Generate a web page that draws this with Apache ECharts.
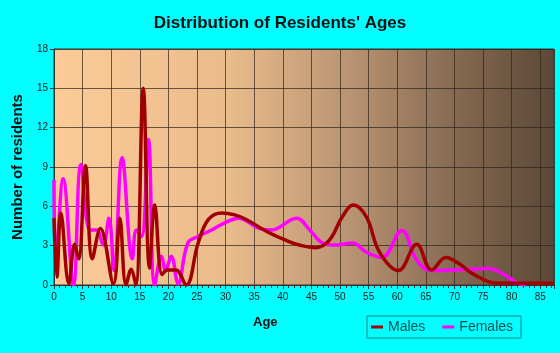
<!DOCTYPE html>
<html lang="en">
<head>
    <meta charset="UTF-8">
    <title>Distribution of Residents' Ages</title>
    <style>
        html, body {
            margin: 0;
            padding: 0;
            background: #00ffff;
        }

        #main {
            width: 560px;
            height: 353px;
        }
    </style>
    <script src="https://cdn.jsdelivr.net/npm/echarts@6/dist/echarts.min.js"></script>
</head>
<body>
<div id="main"></div>
<script>
    // ages (x) and number of residents (y)
    var malesAge = [0, 0.5, 1.2, 2.6, 3.6, 4.3, 5.5, 6.7, 8.1, 10.4, 11.5, 12.6, 13.5, 14.3, 15.6, 16.7, 17.6, 18.9, 19.8, 21.3,
        23.1, 25.2, 27, 29.3, 31.6, 33.6, 37.1, 40.6, 42.9, 45.8, 48.1, 50.4, 52.3, 54.6, 56.9, 60.2, 63.4, 66, 68.5, 70.7, 73.6, 77.7, 87.4];
    var malesValue = [5.1, 0.6, 5.5, 0.1, 3.1, 2.0, 9.1, 2.0, 4.3, 0.1, 5.1, 0, 1.2, 0, 15.0, 1.3, 6.1, 0.8, 1.15, 1.15,
        0, 3.2, 5.0, 5.5, 5.35, 5.0, 4.1, 3.4, 3.05, 2.85, 3.4, 5.2, 6.1, 5.2, 2.5, 1.1, 3.1, 1.15, 2.1, 1.65, 0.75, 0.13, 0.13];

    var femalesAge = [0, 0.35, 1.6, 3.4, 4.7, 6.3, 7.4, 8.6, 9.6, 10.5, 11.9, 13.7, 14.4, 15.3, 16.5, 17.6, 18.8, 19.5, 20.5, 21.7,
        23.4, 25.2, 27.8, 30.1, 32.2, 36, 38, 42.4, 44.7, 47, 49.3, 52.2, 54.6, 57.3, 60.8, 63.4, 66, 70, 75.9, 78.3, 81.2, 82.5];
    var femalesValue = [8.0, 1.9, 8.1, 0, 9.2, 4.2, 4.2, 3.05, 5.1, 1.1, 9.7, 2.0, 4.2, 3.7, 11.1, 0, 2.2, 1.1, 2.2, 0.1,
        3.2, 3.7, 4.25, 4.8, 5.1, 4.3, 4.2, 5.1, 4.2, 3.2, 3.05, 3.2, 2.5, 2.1, 4.15, 1.9, 1.1, 1.15, 1.25, 0.9, 0.1, 0];

    var seriesNames = ['Males', 'Females'];
    var yTicks = [0, 3, 6, 9, 12, 15, 18];

    function pairs(xs, ys) {
        var out = [];
        for (var i = 0; i < xs.length; i++) {
            out.push([xs[i], ys[i]]);
        }
        return out;
    }

    var font = "'Liberation Sans', Arial, sans-serif";
    var myChart = echarts.init(document.getElementById('main'));

    var option = {
        backgroundColor: '#00ffff',
        animation: false,
        title: {
            text: "Distribution of Residents' Ages",
            left: 'center',
            top: 10,
            textStyle: {
                fontFamily: font,
                fontSize: 17,
                fontWeight: 'bold',
                color: '#111'
            }
        },
        grid: {
            left: 54,
            right: 6,
            top: 49,
            bottom: 68,
            show: true,
            borderColor: '#333',
            borderWidth: 1,
            backgroundColor: new echarts.graphic.LinearGradient(0, 0, 1, 0, [
                {offset: 0, color: '#fdcb98'},
                {offset: 0.35, color: '#eabb8b'},
                {offset: 0.6, color: '#b79271'},
                {offset: 0.8, color: '#866a52'},
                {offset: 1, color: '#5a4836'}
            ])
        },
        legend: {
            data: seriesNames,
            left: 367,
            top: 316,
            orient: 'horizontal',
            borderColor: '#138585',
            borderWidth: 1,
            padding: [4, 8, 4, 4],
            itemGap: 17,
            itemWidth: 12,
            itemHeight: 3,
            icon: 'rect',
            textStyle: {
                fontFamily: font,
                fontSize: 14,
                color: '#0f4f4f'
            }
        },
        graphic: [{
            type: 'text',
            left: 253,
            top: 316,
            style: {
                text: 'Age',
                font: "bold 13px 'Liberation Sans', Arial, sans-serif",
                fill: '#111'
            }
        }],
        xAxis: {
            type: 'value',
            min: 0,
            max: 87.4,
            interval: 5,
            axisLine: {show: true, lineStyle: {color: '#333'}},
            axisTick: {show: true, length: 4, lineStyle: {color: '#333'}},
            minorTick: {show: true, splitNumber: 5, length: 3, lineStyle: {color: '#333'}},
            splitLine: {show: true, lineStyle: {color: 'rgba(45,35,25,0.7)', width: 1}},
            axisLabel: {
                showMaxLabel: false,
                margin: 7,
                fontFamily: font,
                fontSize: 10,
                color: '#222',
                formatter: function (v) {
                    return v % 5 === 0 ? String(v) : '';
                }
            }
        },
        yAxis: {
            type: 'value',
            min: yTicks[0],
            max: yTicks[yTicks.length - 1],
            interval: 3,
            name: 'Number of residents',
            nameLocation: 'middle',
            nameGap: 29,
            nameTextStyle: {
                fontFamily: font,
                fontSize: 15,
                fontWeight: 'bold',
                color: '#111'
            },
            axisLine: {show: true, lineStyle: {color: '#333'}},
            axisTick: {show: true, length: 4, lineStyle: {color: '#333'}},
            splitLine: {show: true, lineStyle: {color: 'rgba(45,35,25,0.7)', width: 1}},
            axisLabel: {
                margin: 6,
                fontFamily: font,
                fontSize: 10,
                color: '#222'
            }
        },
        series: [
            {
                name: seriesNames[0],
                type: 'line',
                smooth: 0.4,
                symbol: 'none',
                z: 3,
                color: '#a00000',
                lineStyle: {width: 3.5, color: '#a00000'},
                data: pairs(malesAge, malesValue)
            },
            {
                name: seriesNames[1],
                type: 'line',
                smooth: 0.4,
                symbol: 'none',
                z: 2,
                color: '#ff00ff',
                lineStyle: {width: 3.5, color: '#ff00ff'},
                data: pairs(femalesAge, femalesValue)
            }
        ]
    };

    myChart.setOption(option);
</script>
</body>
</html>
